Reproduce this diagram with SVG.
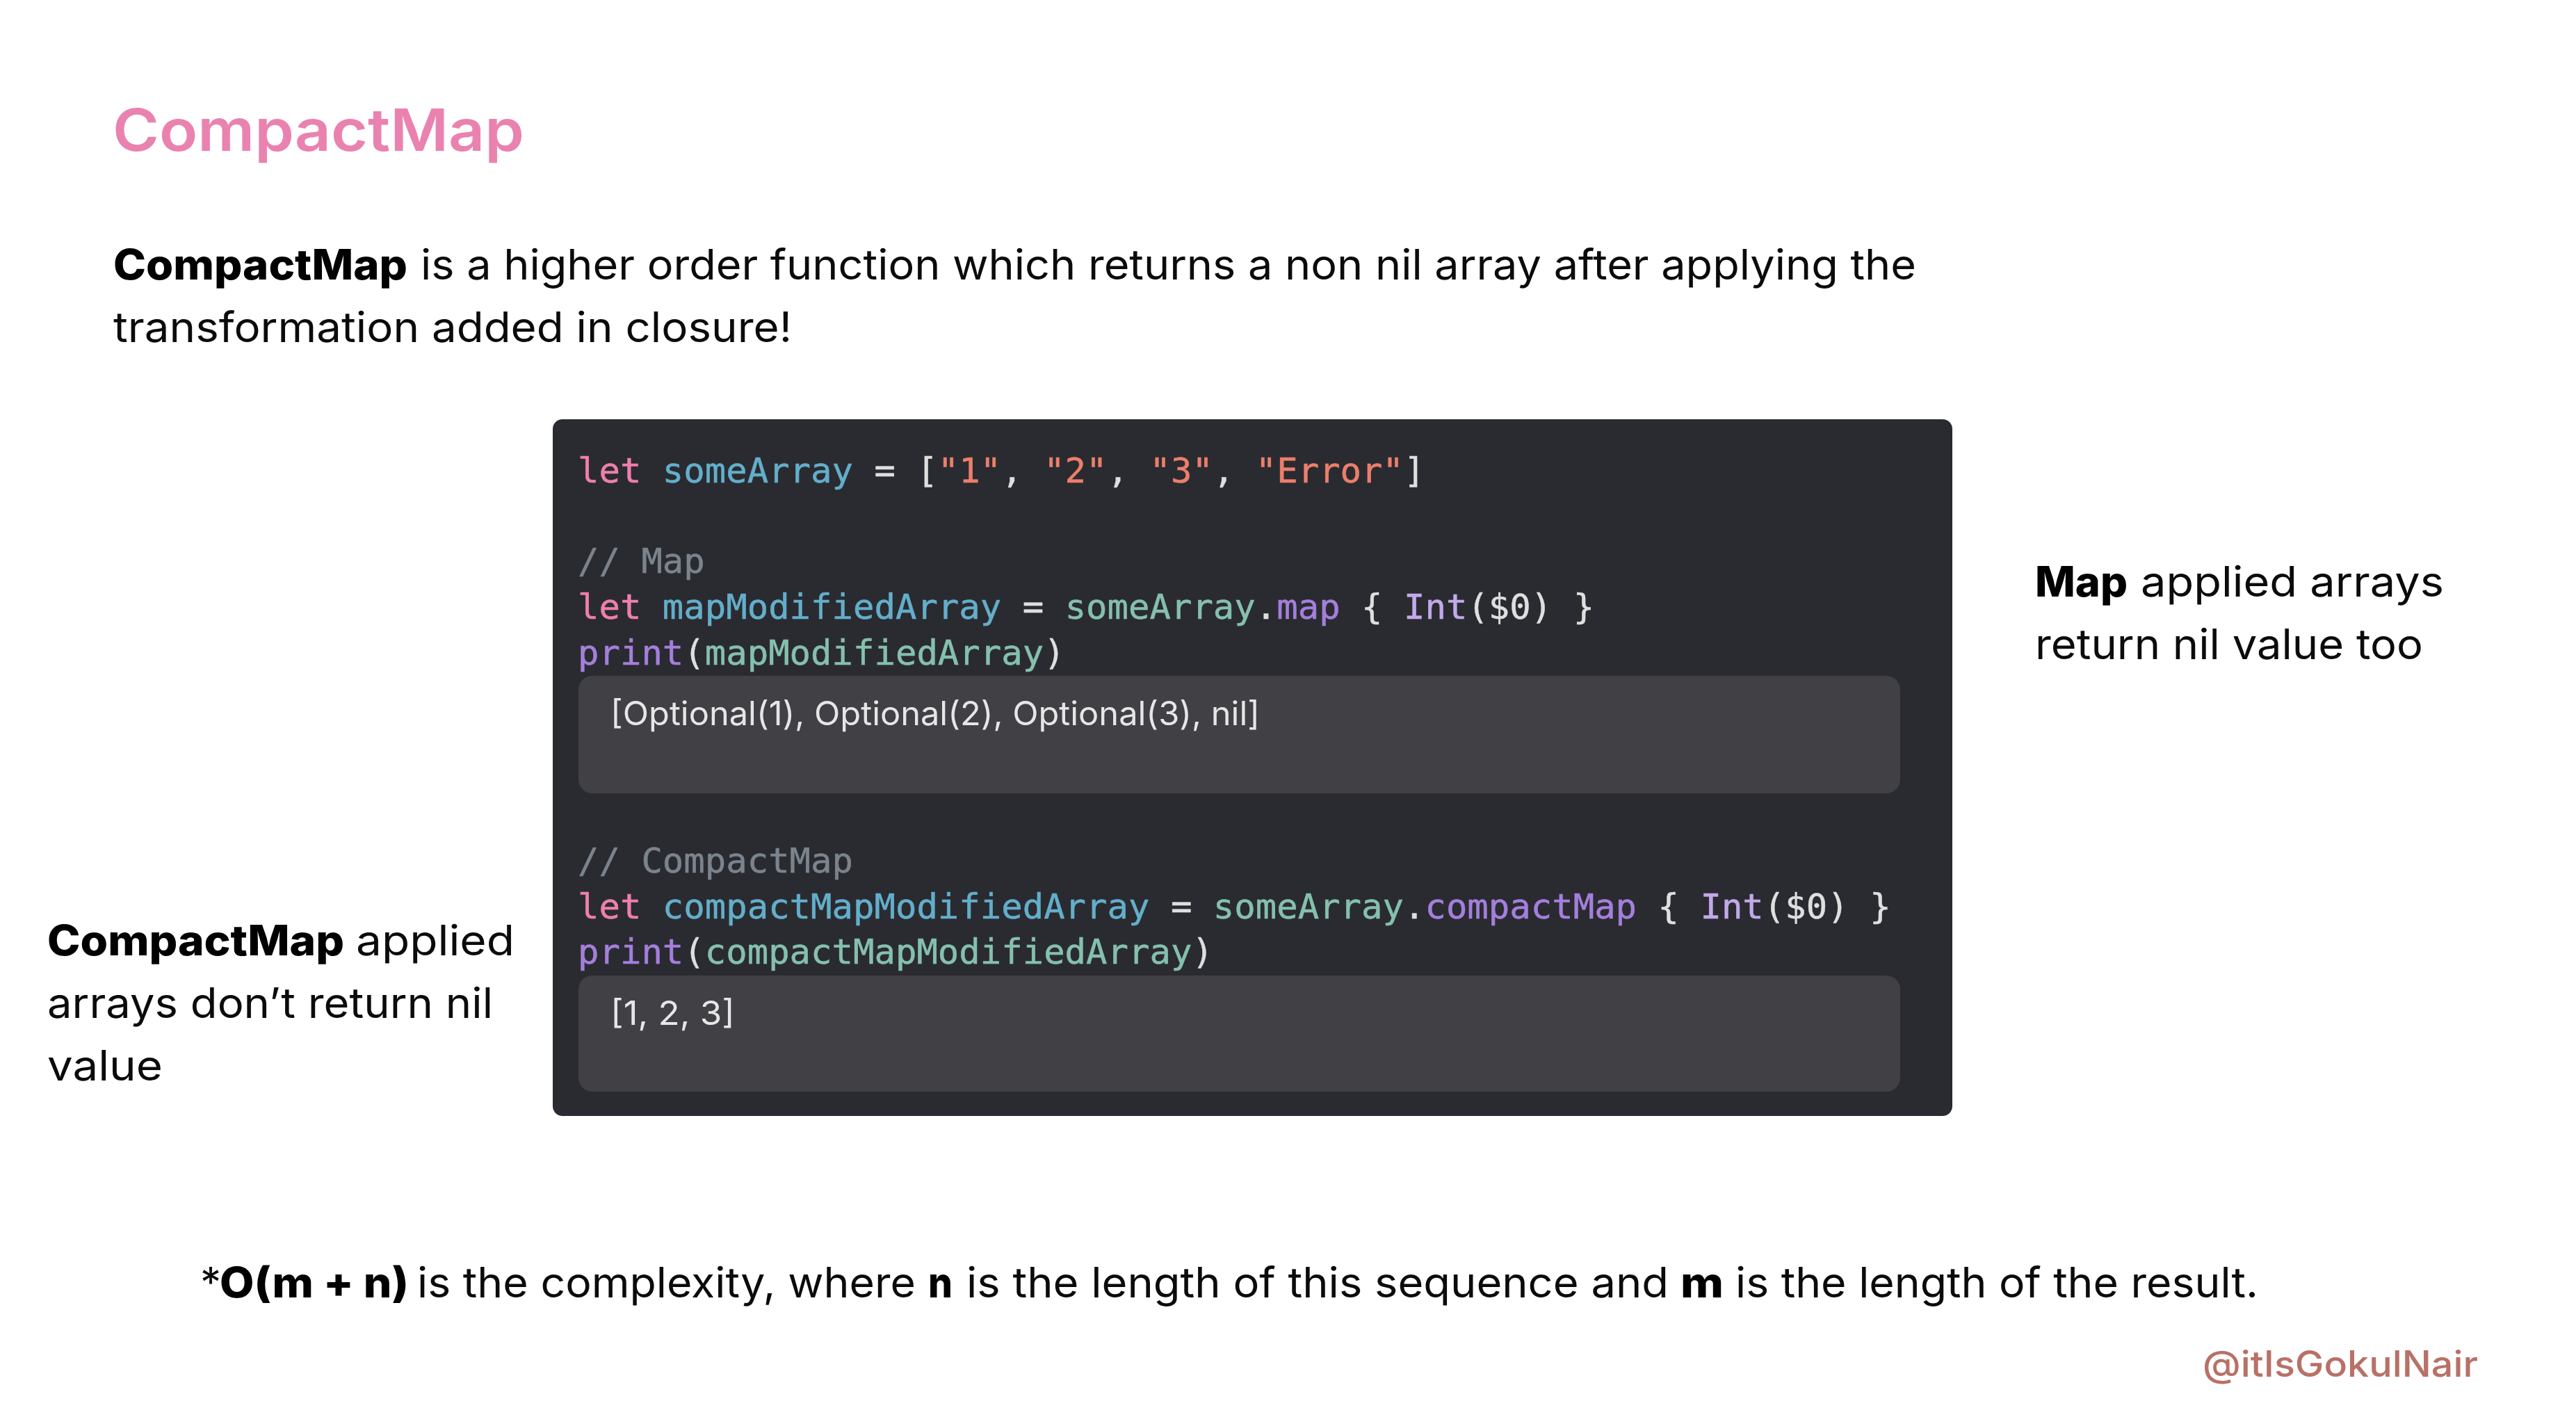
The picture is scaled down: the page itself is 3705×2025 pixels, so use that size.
<svg xmlns="http://www.w3.org/2000/svg" width="3705" height="2025" viewBox="0 0 3705 2025">
<style>
text{font-family:"Inter","Liberation Sans",sans-serif;font-size:60px;fill:#0b0b0b}
.b{font-weight:800;fill:#000}
.title{font-size:84px;fill:#ea82b0;font-weight:600}
.handle{font-size:52px;fill:#b87167;font-weight:500}
text.code{font-family:"DejaVu Sans Mono","Liberation Mono",monospace;font-size:50.6px;fill:#dfdfe0;stroke:#dfdfe0;stroke-width:.5px}
.k{fill:#ee7fae;stroke:#ee7fae}.v{fill:#63aecb;stroke:#63aecb}.s{fill:#ec7f6b;stroke:#ec7f6b}text.c{fill:#7b838d;stroke:#7b838d}.t{fill:#85c0ad;stroke:#85c0ad}.f{fill:#a47fdc;stroke:#a47fdc}.i{fill:#c2a9ea;stroke:#c2a9ea}
text.out{font-size:48px;fill:#e6e6e7}
.panel{fill:#2a2b30}.box{fill:#404045}
</style>
<rect width="3705" height="2025" fill="#fff"/>
<g id="title"><text class="title" x="162" y="217" textLength="592" lengthAdjust="spacingAndGlyphs">CompactMap</text></g>
<g id="intro">
<text y="402"><tspan class="b" x="163" textLength="423" lengthAdjust="spacingAndGlyphs">CompactMap</tspan><tspan x="605" textLength="2151" lengthAdjust="spacingAndGlyphs">is a higher order function which returns a non nil array after applying the</tspan></text>
<text x="163" y="492" textLength="976" lengthAdjust="spacingAndGlyphs">transformation added in closure!</text>
</g>
<g id="code">
<rect class="panel" x="795" y="603" width="2013" height="1002" rx="14"/>
<text class="code" x="831" y="694" xml:space="preserve"><tspan class="k">let</tspan> <tspan class="v">someArray</tspan> = [<tspan class="s">"1"</tspan>, <tspan class="s">"2"</tspan>, <tspan class="s">"3"</tspan>, <tspan class="s">"Error"</tspan>]</text>
<text class="code c" x="831" y="824">// Map</text>
<text class="code" x="831" y="890" xml:space="preserve"><tspan class="k">let</tspan> <tspan class="v">mapModifiedArray</tspan> = <tspan class="t">someArray</tspan>.<tspan class="f">map</tspan> { <tspan class="i">Int</tspan>($0) }</text>
<text class="code" x="831" y="956" xml:space="preserve"><tspan class="f">print</tspan>(<tspan class="t">mapModifiedArray</tspan>)</text>
<rect class="box" x="832" y="972" width="1901" height="169" rx="20"/>
<text class="out" x="878" y="1043" textLength="934" lengthAdjust="spacingAndGlyphs">[Optional(1), Optional(2), Optional(3), nil]</text>
<text class="code c" x="831" y="1255">// CompactMap</text>
<text class="code" x="831" y="1321" xml:space="preserve"><tspan class="k">let</tspan> <tspan class="v">compactMapModifiedArray</tspan> = <tspan class="t">someArray</tspan>.<tspan class="f">compactMap</tspan> { <tspan class="i">Int</tspan>($0) }</text>
<text class="code" x="831" y="1386" xml:space="preserve"><tspan class="f">print</tspan>(<tspan class="t">compactMapModifiedArray</tspan>)</text>
<rect class="box" x="832" y="1403" width="1901" height="167" rx="20"/>
<text class="out" x="878" y="1474" textLength="179" lengthAdjust="spacingAndGlyphs">[1, 2, 3]</text>
</g>
<g id="note-map">
<text y="858"><tspan class="b" x="2927" textLength="133" lengthAdjust="spacingAndGlyphs">Map</tspan><tspan x="3079" textLength="436" lengthAdjust="spacingAndGlyphs">applied arrays</tspan></text>
<text x="2927" y="948" textLength="558" lengthAdjust="spacingAndGlyphs">return nil value too</text>
</g>
<g id="note-compactmap">
<text y="1374"><tspan class="b" x="68" textLength="427" lengthAdjust="spacingAndGlyphs">CompactMap</tspan><tspan x="512" textLength="228" lengthAdjust="spacingAndGlyphs">applied</tspan></text>
<text x="68" y="1464" textLength="641" lengthAdjust="spacingAndGlyphs">arrays don’t return nil</text>
<text x="68" y="1554" textLength="166" lengthAdjust="spacingAndGlyphs">value</text>
</g>
<g id="complexity">
<text y="1866"><tspan x="288">*</tspan><tspan class="b" x="316" textLength="272" lengthAdjust="spacingAndGlyphs">O(m + n)</tspan><tspan x="600" textLength="717" lengthAdjust="spacingAndGlyphs">is the complexity, where</tspan><tspan class="b" x="1335" textLength="35" lengthAdjust="spacingAndGlyphs">n</tspan><tspan x="1390" textLength="1010" lengthAdjust="spacingAndGlyphs">is the length of this sequence and</tspan><tspan class="b" x="2417" textLength="62" lengthAdjust="spacingAndGlyphs">m</tspan><tspan x="2496" textLength="752" lengthAdjust="spacingAndGlyphs">is the length of the result.</tspan></text>
</g>
<g id="handle"><text class="handle" x="3168" y="1980" textLength="396" lengthAdjust="spacingAndGlyphs">@itIsGokulNair</text></g>
</svg>
